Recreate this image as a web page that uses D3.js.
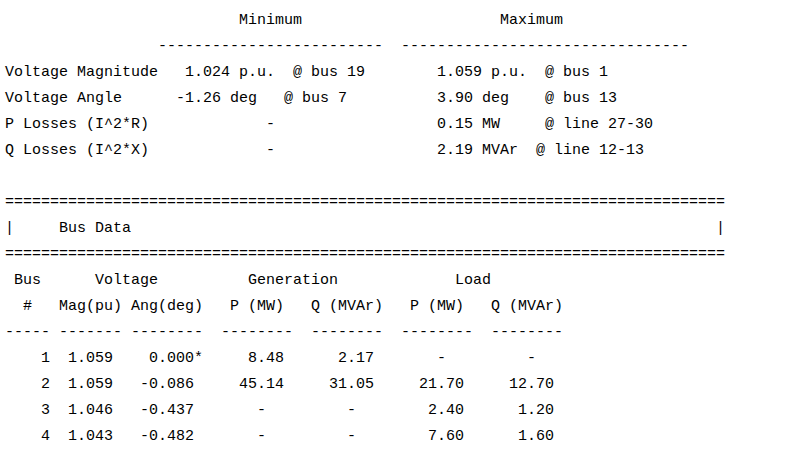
<!DOCTYPE html>
<html>
<head>
<meta charset="utf-8">
<script src="https://cdn.jsdelivr.net/npm/d3@7"></script>
<style>
  body { margin: 0; background: #fff; }
  text { font-family: "Liberation Mono", "DejaVu Sans Mono", monospace; font-size: 15px; white-space: pre; fill: #000; }
</style>
</head>
<body>
<svg id="chart"></svg>
<script>
// summary rows: label, min value/unit/location, max value/unit/location
const summaryLabels = ['Voltage Magnitude', 'Voltage Angle', 'P Losses (I^2*R)', 'Q Losses (I^2*X)'];
const summaryMin = ['1.024 p.u.  @ bus 19', '-1.26 deg   @ bus 7', '-', '-'];
const summaryMax = ['1.059 p.u.  @ bus 1', '3.90 deg    @ bus 13', '0.15 MW     @ line 27-30', '2.19 MVAr  @ line 12-13'];

// bus table
const busIds = [1, 2, 3, 4];
const busVm = ['1.059', '1.059', '1.046', '1.043'];
const busVa = ['0.000*', '-0.086', '-0.437', '-0.482'];
const genP = ['8.48', '45.14', null, null];
const genQ = ['2.17', '31.05', null, null];
const loadP = [null, '21.70', '2.40', '7.60'];
const loadQ = [null, '12.70', '1.20', '1.60'];

const width = 797, height = 458;
const svg = d3.select('#chart').attr('width', width).attr('height', height);

// place string s at column c of line
function put(line, c, s) {
  line = line.padEnd(c, ' ');
  return line.slice(0, c) + s + line.slice(c + s.length);
}
const rAlign = (line, endCol, s) => put(line, endCol - s.length + 1, s);
const num = (line, endCol, s, dashCol) => s == null ? put(line, dashCol, '-') : rAlign(line, endCol, s);

const lines = [];
lines.push(put(put('', 26, 'Minimum'), 55, 'Maximum'));
lines.push(put(put('', 17, '-'.repeat(25)), 44, '-'.repeat(32)));
summaryLabels.forEach((lab, i) => {
  let l = lab;
  const mn = summaryMin[i];
  l = mn === '-' ? put(l, 29, '-') : put(l, mn.startsWith('-') ? 19 : 20, mn);
  l = put(l, 48, summaryMax[i]);
  lines.push(l);
});
lines.push('');
lines.push('='.repeat(80));
lines.push(put(put('', 0, '|     Bus Data'), 79, '|'));
lines.push('='.repeat(80));
lines.push(put(put(put(put('', 1, 'Bus'), 10, 'Voltage'), 27, 'Generation'), 50, 'Load'));
lines.push('  #   Mag(pu) Ang(deg)   P (MW)    Q (MVAr)  P (MW)    Q (MVAr)'
  .replace(/.*/, () => {
    let l = put('', 2, '#');
    l = put(l, 6, 'Mag(pu)'); l = put(l, 14, 'Ang(deg)');
    l = put(l, 25, 'P (MW)'); l = put(l, 34, 'Q (MVAr)');
    l = put(l, 45, 'P (MW)'); l = put(l, 54, 'Q (MVAr)');
    return l;
  }));
lines.push(['-----', '-------', '--------', '--------', '--------', '--------', '--------']
  .reduce((l, d, i) => put(l, [0, 6, 14, 24, 34, 44, 54][i], d), ''));
busIds.forEach((b, i) => {
  let l = rAlign('', 4, String(b));
  l = put(l, 7, busVm[i]);
  l = rAlign(l, 20, busVa[i].replace('*', ''));
  if (busVa[i].endsWith('*')) l = put(l, 21, '*');
  l = num(l, 30, genP[i], 28);
  l = num(l, 40, genQ[i], 38);
  l = num(l, 50, loadP[i], 48);
  l = num(l, 60, loadQ[i], 58);
  lines.push(l);
});

const y = d3.scaleLinear().domain([0, 1]).range([20, 46]);

svg.selectAll('text')
  .data(lines)
  .join('text')
  .attr('x', 5)
  .attr('y', (d, i) => y(i))
  .attr('dominant-baseline', 'central')
  .attr('textLength', d => d.length ? d.length * 9 : null)
  .attr('lengthAdjust', 'spacing')
  .text(d => d);
</script>
</body>
</html>
